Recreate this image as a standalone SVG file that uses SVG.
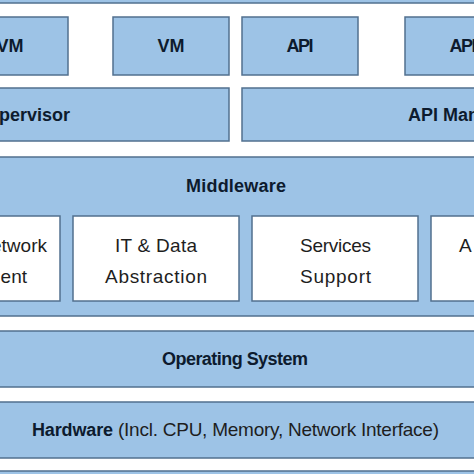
<svg xmlns="http://www.w3.org/2000/svg" width="474" height="474" viewBox="0 0 474 474">
<style>
.box{fill:#9dc3e6;stroke:#52708f;stroke-width:1.5}
.inner{fill:#ffffff;stroke:#52708f;stroke-width:1.5}
.b{font-family:"Liberation Sans",Arial,sans-serif;font-weight:bold;font-size:18px;fill:#0d1b2e}
.r{font-family:"Liberation Sans",Arial,sans-serif;font-size:19px;fill:#1e1e1e}
</style>
<rect x="0" y="0" width="474" height="474" fill="#ffffff"/>
<g id="top-frame"><rect class="box" x="-20" y="-30" width="514" height="33"/></g>
<g id="vm1"><rect class="box" x="-48" y="17" width="116" height="58"/><text class="b" x="10" y="52" text-anchor="middle">VM</text></g>
<g id="vm2"><rect class="box" x="113" y="17" width="116" height="58"/><text class="b" x="171" y="52" text-anchor="middle">VM</text></g>
<g id="api1"><rect class="box" x="242" y="17" width="116" height="58"/><text class="b" x="300" y="52" text-anchor="middle" textLength="27">API</text></g>
<g id="api2"><rect class="box" x="405" y="17" width="116" height="58"/><text class="b" x="463" y="52" text-anchor="middle" textLength="27">API</text></g>
<g id="hypervisor"><rect class="box" x="-200" y="88" width="429" height="53"/><text class="b" x="70" y="121" text-anchor="end">Hypervisor</text></g>
<g id="api-management"><rect class="box" x="242" y="88" width="400" height="53"/><text class="b" x="408" y="121">API Management</text></g>
<g id="middleware"><rect class="box" x="-20" y="157" width="514" height="159"/><text class="b" x="236" y="192" text-anchor="middle" textLength="100">Middleware</text></g>
<g id="network-management"><rect class="inner" x="-106" y="216" width="166" height="85"/><text class="r" x="47" y="252" text-anchor="end">Device &amp; Network</text><text class="r" x="27" y="283" text-anchor="end">Management</text></g>
<g id="it-data"><rect class="inner" x="73" y="216" width="166" height="85"/><text class="r" x="156" y="252" text-anchor="middle" textLength="82">IT &amp; Data</text><text class="r" x="156" y="283" text-anchor="middle" textLength="102">Abstraction</text></g>
<g id="services-support"><rect class="inner" x="252" y="216" width="166" height="85"/><text class="r" x="335.5" y="252" text-anchor="middle" textLength="71">Services</text><text class="r" x="335.5" y="283" text-anchor="middle" textLength="71">Support</text></g>
<g id="application"><rect class="inner" x="431" y="216" width="166" height="85"/><text class="r" x="459" y="252" font-size="20">A<tspan dx="4">pplication</tspan></text></g>
<g id="operating-system"><rect class="box" x="-20" y="331" width="514" height="56"/><text class="b" x="235" y="365" text-anchor="middle" textLength="146">Operating System</text></g>
<g id="hardware"><rect class="box" x="-20" y="402" width="514" height="56"/><text class="r" x="32" y="436"><tspan class="b" textLength="81">Hardware</tspan><tspan x="118" textLength="321">(Incl. CPU, Memory, Network Interface)</tspan></text></g>
<g id="bottom-frame"><rect class="box" x="-20" y="471" width="514" height="30"/></g>
<g id="connectors"></g>
</svg>
